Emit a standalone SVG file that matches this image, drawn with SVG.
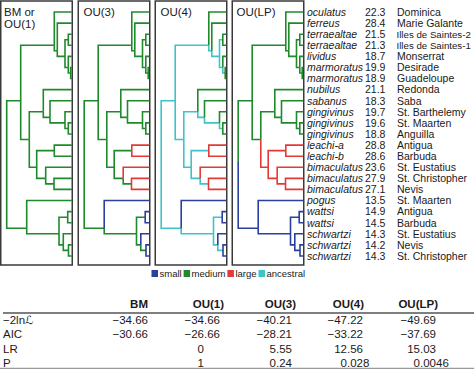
<svg xmlns="http://www.w3.org/2000/svg" width="474" height="369" viewBox="0 0 474 369">
<style>
.br{fill:none;stroke-width:1.6;stroke-linejoin:miter;stroke-linecap:butt}
.g{stroke:#1f8a2c}.r{stroke:#e33a36}.b{stroke:#2b3f9e}.c{stroke:#3fc3c9}
.frame{fill:#fff;stroke:#3a3a3a;stroke-width:1.5}
.f{font-family:"Liberation Sans",Arial,Helvetica,sans-serif;fill:#1a1a1a}
.pl{font-size:11.5px}
.sp{font-size:10.5px;font-style:italic}
.tx{font-size:10.5px}
.tn{font-size:9.7px}
.lg{font-size:9.5px}
.th{font-size:11.5px;font-weight:bold;text-anchor:end}
.td{font-size:11.5px;text-anchor:end}
.rl{font-size:11.5px}
</style>
<defs>
<path id="Ir" d="M6.7,162V100.7H20.7M20.7,100.7V45.3H54.3M54.3,45.3V50.8H57.3M57.3,50.8V56.4H65M65,56.4V39.7H68.3M65,56.4V67.5H68.3M68.3,67.5V73H70.7M20.7,100.7V139.5H29.3M29.3,139.5V111.8H43.3M43.3,111.8V117.4H50M50,117.4V122.9H65M65,122.9V128.5H68.3"/>
<path id="IC" d="M29.3,139.5V167.3H36.7M36.7,167.3V150.6H54.3M36.7,167.3V178.4H45.7M45.7,178.4V183.9H54"/>
<path id="ID" d="M6.7,162V228.3H26.7M26.7,228.3V233.8H59M59,233.8V217.2H67.7M59,233.8V244.9H63.3M63.3,244.9V250.4H68.5"/>
<path id="Tm" d="M54.3,45.3V12H71.8M57.3,50.8V23.1H71.8M68.3,39.7V34.2H71.8M68.3,39.7V45.3H71.8M68.3,67.5V56.4H71.8M70.7,73V67.5H71.8M70.7,73V78.5H71.8M43.3,111.8V89.6H71.8M50,117.4V100.7H71.8M65,122.9V111.8H71.8M68.3,128.5V122.9H71.8M68.3,128.5V134H71.8"/>
<path id="Tl" d="M54.3,150.6V145.1H71.8M54.3,150.6V156.2H71.8M45.7,178.4V167.3H71.8M54,183.9V178.4H71.8M54,183.9V189.4H71.8"/>
<path id="Ts" d="M26.7,228.3V200.5H71.8M67.7,217.2V211.6H71.8M67.7,217.2V222.7H71.8M63.3,244.9V233.8H71.8M68.5,250.4V244.9H71.8M68.5,250.4V256H71.8"/>
</defs>

<g id="panel-bm">
<rect class="frame" x="0.75" y="1" width="71.5" height="264"/>
<g class="br g"><use href="#Ir"/><use href="#IC"/><use href="#ID"/><use href="#Tm"/><use href="#Tl"/><use href="#Ts"/></g>
<text class="f pl" x="4" y="15.5">BM or</text>
<text class="f pl" x="4" y="27.5">OU(1)</text>
</g>

<g id="panel-ou3" transform="translate(77.5,0)">
<rect class="frame" x="0.75" y="1" width="71.5" height="264"/>
<g class="br"><use class="g" href="#Ir"/><use class="g" href="#IC"/><use class="g" href="#ID"/><use class="g" href="#Tm"/><use class="r" href="#Tl"/><use class="b" href="#Ts"/></g>
<text class="f pl" x="6" y="15.5">OU(3)</text>
</g>

<g id="panel-ou4" transform="translate(154.5,0)">
<rect class="frame" x="0.75" y="1" width="71.5" height="264"/>
<g class="br"><use class="c" href="#Ir"/><use class="c" href="#IC"/><use class="c" href="#ID"/><use class="g" href="#Tm"/><use class="r" href="#Tl"/><use class="b" href="#Ts"/></g>
<text class="f pl" x="6" y="15.5">OU(4)</text>
</g>

<g id="panel-oulp" transform="translate(231.5,0)">
<rect class="frame" x="0.75" y="1" width="71.5" height="264"/>
<g class="br"><use class="g" href="#Ir"/><use class="r" href="#IC"/><use class="b" href="#ID"/><use class="g" href="#Tm"/><use class="r" href="#Tl"/><use class="b" href="#Ts"/></g>
<text class="f pl" x="5" y="15.5">OU(LP)</text>
</g>

<g id="species">
<text class="f sp" x="307"><tspan x="307" y="15.8">oculatus</tspan><tspan x="307" y="26.9">ferreus</tspan><tspan x="307" y="38">terraealtae</tspan><tspan x="307" y="49.1">terraealtae</tspan><tspan x="307" y="60.2">lividus</tspan><tspan x="307" y="71.3">marmoratus</tspan><tspan x="307" y="82.3">marmoratus</tspan><tspan x="307" y="93.4">nubilus</tspan><tspan x="307" y="104.5">sabanus</tspan><tspan x="307" y="115.6">gingivinus</tspan><tspan x="307" y="126.7">gingivinus</tspan><tspan x="307" y="137.8">gingivinus</tspan><tspan x="307" y="148.9">leachi-a</tspan><tspan x="307" y="160">leachi-b</tspan><tspan x="307" y="171.1">bimaculatus</tspan><tspan x="307" y="182.2">bimaculatus</tspan><tspan x="307" y="193.2">bimaculatus</tspan><tspan x="307" y="204.3">pogus</tspan><tspan x="307" y="215.4">wattsi</tspan><tspan x="307" y="226.5">wattsi</tspan><tspan x="307" y="237.6">schwartzi</tspan><tspan x="307" y="248.7">schwartzi</tspan><tspan x="307" y="259.8">schwartzi</tspan></text>
<text class="f tx" x="365"><tspan x="365" y="15.8">22.3</tspan><tspan x="365" y="26.9">28.4</tspan><tspan x="365" y="38">21.5</tspan><tspan x="365" y="49.1">21.3</tspan><tspan x="365" y="60.2">18.7</tspan><tspan x="365" y="71.3">19.9</tspan><tspan x="365" y="82.3">18.9</tspan><tspan x="365" y="93.4">21.1</tspan><tspan x="365" y="104.5">18.3</tspan><tspan x="365" y="115.6">19.7</tspan><tspan x="365" y="126.7">19.6</tspan><tspan x="365" y="137.8">18.8</tspan><tspan x="365" y="148.9">28.8</tspan><tspan x="365" y="160">28.6</tspan><tspan x="365" y="171.1">23.6</tspan><tspan x="365" y="182.2">27.9</tspan><tspan x="365" y="193.2">27.1</tspan><tspan x="365" y="204.3">13.5</tspan><tspan x="365" y="215.4">14.9</tspan><tspan x="365" y="226.5">14.5</tspan><tspan x="365" y="237.6">14.3</tspan><tspan x="365" y="248.7">14.2</tspan><tspan x="365" y="259.8">14.3</tspan></text>
<text class="f tx" x="397"><tspan x="397" y="15.8">Dominica</tspan><tspan x="397" y="26.9">Marie Galante</tspan><tspan x="397" y="60.2">Monserrat</tspan><tspan x="397" y="71.3">Desirade</tspan><tspan x="397" y="82.3">Guadeloupe</tspan><tspan x="397" y="93.4">Redonda</tspan><tspan x="397" y="104.5">Saba</tspan><tspan x="397" y="115.6">St. Barthelemy</tspan><tspan x="397" y="126.7">St. Maarten</tspan><tspan x="397" y="137.8">Anguilla</tspan><tspan x="397" y="148.9">Antigua</tspan><tspan x="397" y="160">Barbuda</tspan><tspan x="397" y="171.1">St. Eustatius</tspan><tspan x="397" y="182.2">St. Christopher</tspan><tspan x="397" y="193.2">Nevis</tspan><tspan x="397" y="204.3">St. Maarten</tspan><tspan x="397" y="215.4">Antigua</tspan><tspan x="397" y="226.5">Barbuda</tspan><tspan x="397" y="237.6">St. Eustatius</tspan><tspan x="397" y="248.7">Nevis</tspan><tspan x="397" y="259.8">St. Christopher</tspan></text>
<text class="f tn" x="396.5" y="38">Illes de Saintes-2</text>
<text class="f tn" x="396.5" y="49.1">Illes de Saintes-1</text>
</g>

<g id="legend">
<rect x="151.5" y="270" width="6.5" height="7" fill="#2b3f9e"/>
<text class="f lg" x="159.5" y="277">small</text>
<rect x="183.6" y="270" width="6.5" height="7" fill="#1f8a2c"/>
<text class="f lg" x="191.6" y="277">medium</text>
<rect x="227.4" y="270" width="6.5" height="7" fill="#e33a36"/>
<text class="f lg" x="235.4" y="277">large</text>
<rect x="258.5" y="270" width="6.5" height="7" fill="#3fc3c9"/>
<text class="f lg" x="266.5" y="277">ancestral</text>
</g>

<g id="table">
<text class="f th" x="148" y="307.5">BM</text>
<text class="f th" x="224" y="307.5">OU(1)</text>
<text class="f th" x="296" y="307.5">OU(3)</text>
<text class="f th" x="364" y="307.5">OU(4)</text>
<text class="f th" x="438" y="307.5">OU(LP)</text>
<line x1="3" y1="313" x2="474" y2="313" stroke="#555" stroke-width="1.3"/>
<text class="f rl" x="3" y="323.5">−2ln<tspan font-family="'DejaVu Sans',sans-serif" font-style="italic">ℒ</tspan></text>
<text class="f rl" x="3" y="338">AIC</text>
<text class="f rl" x="3" y="352.5">LR</text>
<text class="f rl" x="3" y="366.5">P</text>
<text class="f td" x="148" y="323.5">−34.66</text>
<text class="f td" x="220" y="323.5">−34.66</text>
<text class="f td" x="292" y="323.5">−40.21</text>
<text class="f td" x="363" y="323.5">−47.22</text>
<text class="f td" x="436" y="323.5">−49.69</text>
<text class="f td" x="148" y="338">−30.66</text>
<text class="f td" x="220" y="338">−26.66</text>
<text class="f td" x="292" y="338">−28.21</text>
<text class="f td" x="363" y="338">−33.22</text>
<text class="f td" x="436" y="338">−37.69</text>
<text class="f td" x="204" y="352.5">0</text>
<text class="f td" x="292" y="352.5">5.55</text>
<text class="f td" x="363" y="352.5">12.56</text>
<text class="f td" x="436" y="352.5">15.03</text>
<text class="f td" x="204" y="366.5">1</text>
<text class="f td" x="292" y="366.5">0.24</text>
<text class="f td" x="369.4" y="366.5">0.028</text>
<text class="f td" x="448.8" y="366.5">0.0046</text>
<line x1="0" y1="368.5" x2="474" y2="368.5" stroke="#999" stroke-width="1.5"/>
</g>
</svg>
